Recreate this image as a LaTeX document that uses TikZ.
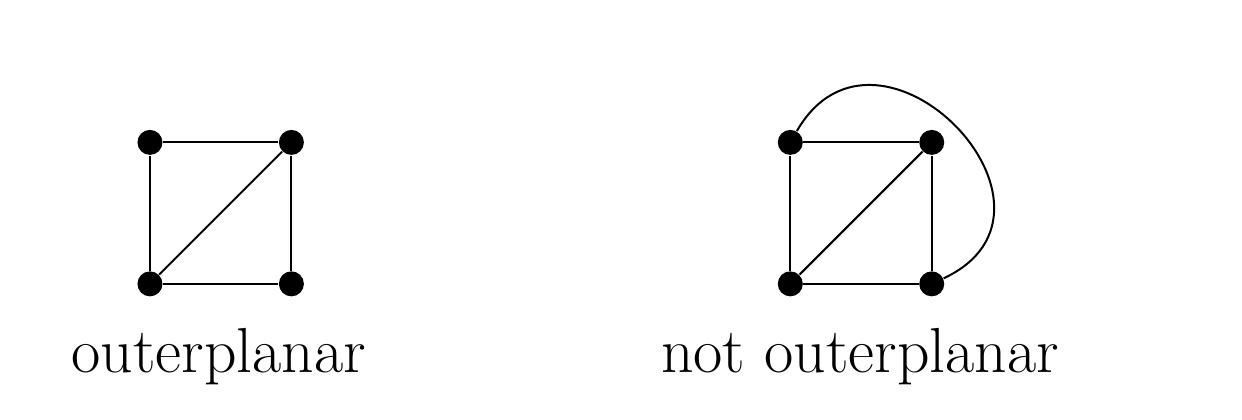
\documentclass[tikz,border=0pt]{standalone}
\usepackage{tikz}
\usetikzlibrary{positioning}
\tikzset{
  vertex/.style = {circle, fill=black, inner sep=0pt, minimum size=2.65mm},
  edge/.style   = {line width=0.6pt},
  caption/.style = {anchor=base, font=\fontsize{19.2pt}{22pt}\selectfont},
}
\begin{document}
\begin{tikzpicture}[node distance=1.5cm, on grid]
    \useasboundingbox (0,0) rectangle (13.17,4.45);
    % Left graph
    \node[vertex] (bl) at (1.59,1.44) {};
    \node[vertex,right=of bl] (br) {};
    \node[vertex,above=of bl] (tl) {};
    \node[vertex,above=of br] (tr) {};
    \draw[edge] (tl) -- (tr) -- (br) -- (bl) -- (tl);
    \draw[edge] (bl) -- (tr);
    \node[caption] (outer) at (2.32,0.50) {outerplanar};

    % Right graph
    \node[vertex] (nbl) at (8.38,1.44) {};
    \node[vertex,right=of nbl] (nbr) {};
    \node[vertex,above=of nbl] (ntl) {};
    \node[vertex,above=of nbr] (ntr) {};
    \draw[edge] (ntl) -- (ntr) -- (nbr) -- (nbl) -- (ntl);
    \draw[edge] (nbl) -- (ntr);
    \draw[edge] (ntl) to[out=60,in=25,looseness=2.0] (nbr);
    \node[caption] (notouter) at (9.12,0.50) {not outerplanar};
\end{tikzpicture}
\end{document}
